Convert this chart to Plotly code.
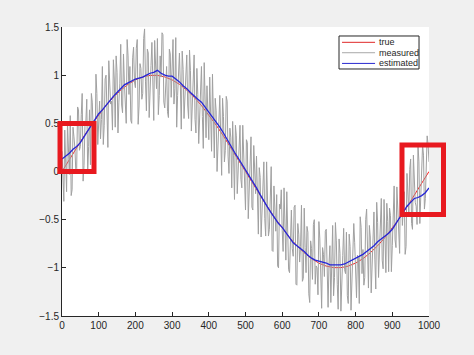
import plotly.graph_objects as go

# ---- data ----
true_x = list(range(0, 1001, 20))
true_y = [0.000, 0.125, 0.249, 0.368, 0.482, 0.588, 0.685, 0.771, 0.844, 0.905,
          0.951, 0.982, 0.998, 0.998, 0.982, 0.951, 0.905, 0.844, 0.771, 0.685,
          0.588, 0.482, 0.368, 0.249, 0.125, 0.000, -0.125, -0.249, -0.368, -0.482,
          -0.588, -0.685, -0.771, -0.844, -0.905, -0.951, -0.982, -0.998, -0.998, -0.982,
          -0.951, -0.905, -0.844, -0.771, -0.685, -0.588, -0.482, -0.368, -0.249, -0.125,
          0.000]

# measured samples at x = 0, 5, 10, ... 1000
meas_x_a = list(range(0, 1001, 5))
meas_y_a = [0.21, -0.31, 0.14, 0.51, -0.03, -0.25, 0.46, 0.25, 0.03, 0.64,
            0.26, 0.81, 0.06, 0.52, -0.01, 0.64, 0.81, 0.42, 0.16, 0.81,
            0.65, 0.34, 1.09, 0.48, 1.00, 0.25, 0.87, 0.73, 1.16, 0.46,
            1.03, 0.72, 1.32, 0.61, 0.92, 0.50, 1.20, 1.09, 0.50, 1.29,
            0.87, 1.37, 0.68, 1.07, 0.81, 1.48, 0.63, 1.23, 0.94, 1.34,
            0.53, 1.16, 1.38, 0.79, 0.98, 1.42, 0.66, 1.09, 0.56, 1.22,
            1.00, 0.70, 1.39, 0.79, 1.23, 0.44, 1.06, 0.83, 1.21, 0.55,
            1.05, 0.65, 1.21, 0.40, 0.80, 0.52, 1.09, 0.24, 0.77, 0.89,
            0.33, 0.58, 1.01, 0.14, 0.63, 0.38, 0.79, -0.04, 0.57, 0.22,
            0.73, -0.02, 0.35, 0.52, -0.29, 0.37, 0.09, 0.48, -0.17, 0.11,
            -0.40, 0.30, -0.22, 0.36, -0.40, -0.15, 0.16, -0.65, -0.06, -0.38,
            0.10, -0.67, -0.25, -0.60, 0.05, -0.83, -0.42, -0.24, -1.00, -0.39,
            -0.61, -0.17, -0.92, -0.57, -1.05, -0.40, -0.88, -0.35, -1.18, -0.65,
            -0.78, -1.14, -0.38, -1.05, -0.63, -1.36, -0.80, -0.55, -1.17, -1.00,
            -0.52, -1.30, -0.79, -1.09, -0.60, -1.41, -0.77, -0.96, -1.29, -0.53,
            -1.17, -0.70, -1.45, -0.87, -1.02, -0.63, -1.37, -0.78, -1.05, -0.54,
            -1.21, -0.87, -1.37, -0.58, -0.81, -1.10, -0.39, -1.21, -0.68, -0.88,
            -0.42, -1.22, -0.53, -0.88, -0.28, -1.01, -0.67, -0.33, -1.04, -0.46,
            -0.77, -0.15, -0.79, -0.43, -0.85, -0.17, -0.31, -0.86, -0.02, -0.43,
            0.13, -0.60, -0.06, -0.36, 0.28, -0.54, -0.07, 0.17, -0.28, 0.37,
            0.10]

# measured samples at x = 2.5, 7.5, ... 997.5
meas_x_b = [k * 5 + 2.5 for k in range(200)]
meas_y_b = [-0.10, 0.43, -0.21, 0.16, 0.58, -0.19, 0.36, 0.02, 0.67, 0.22,
            0.59, -0.10, 0.47, 0.75, 0.26, 0.07, 0.72, 0.53, 1.01, 0.28,
            0.73, 0.54, 0.28, 0.96, 0.46, 1.15, 0.70, 0.43, 0.96, 1.20,
            0.40, 0.91, 0.69, 1.22, 0.62, 1.37, 0.80, 0.53, 1.18, 0.93,
            1.28, 0.49, 1.12, 0.75, 1.38, 0.93, 1.27, 0.56, 1.10, 0.69,
            1.36, 0.86, 0.59, 1.20, 1.44, 0.72, 1.01, 0.62, 1.27, 0.77,
            1.37, 0.86, 0.46, 1.08, 0.89, 1.25, 0.55, 1.10, 0.69, 1.26,
            0.42, 0.84, 0.54, 1.07, 0.29, 0.90, 0.57, 1.13, 0.35, 0.55,
            0.98, 0.21, 0.64, 0.76, 0.00, 0.52, 0.21, 0.76, 0.10, 0.78,
            0.16, 0.45, -0.17, 0.17, 0.48, -0.23, 0.34, -0.08, 0.48, -0.07,
            0.33, -0.49, 0.06, -0.37, 0.27, -0.23, -0.52, 0.04, -0.68, -0.25,
            -0.49, 0.10, -0.67, -0.31, -0.82, -0.15, -0.62, -0.98, -0.34, -0.19,
            -0.83, -0.61, -0.21, -1.02, -0.54, -0.80, -0.37, -1.17, -0.54, -0.94,
            -0.35, -1.11, -0.79, -0.57, -1.27, -0.72, -1.12, -0.50, -0.98, -1.28,
            -0.70, -1.42, -0.86, -0.62, -1.18, -0.96, -1.36, -0.56, -1.10, -0.72,
            -1.43, -0.85, -1.24, -0.59, -1.06, -1.29, -0.65, -1.44, -0.85, -0.74,
            -1.31, -0.89, -0.47, -1.06, -1.18, -0.50, -0.89, -0.56, -1.26, -0.65,
            -0.91, -0.32, -1.10, -0.65, -0.92, -0.29, -1.05, -0.52, -0.38, -1.04,
            -0.51, -0.71, -0.16, -0.79, 0.01, -0.56, -0.21, -0.78, -0.34, 0.02,
            -0.54, 0.17, -0.32, -0.55, 0.10, -0.32, 0.28, -0.39, 0.09, 0.28]

est_x = list(range(0, 1001, 10))
est_y = [0.13, 0.16, 0.19, 0.23, 0.26, 0.30, 0.36, 0.43, 0.49, 0.55,
         0.60, 0.64, 0.69, 0.74, 0.78, 0.82, 0.86, 0.90, 0.92, 0.94,
         0.96, 0.97, 0.98, 1.00, 1.02, 1.03, 1.05, 1.02, 1.00, 0.99,
         0.99, 0.96, 0.93, 0.89, 0.86, 0.82, 0.78, 0.75, 0.72, 0.67,
         0.62, 0.57, 0.52, 0.46, 0.40, 0.33, 0.27, 0.20, 0.14, 0.08,
         0.01, -0.04, -0.10, -0.17, -0.24, -0.31, -0.37, -0.43, -0.49, -0.54,
         -0.58, -0.63, -0.68, -0.74, -0.77, -0.80, -0.83, -0.87, -0.90, -0.92,
         -0.93, -0.94, -0.95, -0.97, -0.97, -0.97, -0.97, -0.96, -0.94, -0.92,
         -0.90, -0.88, -0.86, -0.83, -0.80, -0.77, -0.73, -0.70, -0.67, -0.64,
         -0.60, -0.54, -0.47, -0.41, -0.36, -0.32, -0.28, -0.27, -0.25, -0.22,
         -0.17]

x_ticks = [0, 100, 200, 300, 400, 500, 600, 700, 800, 900, 1000]
y_ticks = [-1.5, -1, -0.5, 0, 0.5, 1, 1.5]
y_ticktext = ["\u22121.5", "\u22121", "\u22120.5", "0", "0.5", "1", "1.5"]

legend_names = ["true", "measured", "estimated"]
legend_colors = ["#e02828", "#a8a8a8", "#2828d0"]

# interleave the two measured sample sets in x order
meas_pts = sorted(zip(meas_x_a + meas_x_b, meas_y_a + meas_y_b))
meas_x = [p[0] for p in meas_pts]
meas_y = [p[1] for p in meas_pts]

# ---- figure ----
fig = go.Figure()
fig.add_trace(go.Scatter(x=true_x, y=true_y, mode="lines", name="true",
                         line=dict(color="#ff1a1a", width=1)))
fig.add_trace(go.Scatter(x=meas_x, y=meas_y, mode="lines", name="measured",
                         line=dict(color="#a0a0a0", width=1)))
fig.add_trace(go.Scatter(x=est_x, y=est_y, mode="lines", name="estimated",
                         line=dict(color="#2424d8", width=1.3)))

axis_common = dict(showgrid=False, zeroline=False, showline=True, linecolor="#262626",
                   linewidth=1, ticks="inside", ticklen=4, tickcolor="#262626",
                   tickfont=dict(family="Liberation Sans", size=10, color="#262626"),
                   mirror=False)

# legend drawn as a MATLAB-style box
lg_x0, lg_x1, lg_y0, lg_y1 = 0.7548, 0.9728, 0.8547, 0.9689
row_y = [0.947, 0.911, 0.874]
shapes = [dict(type="rect", xref="paper", yref="paper", x0=lg_x0, x1=lg_x1,
               y0=lg_y0, y1=lg_y1, line=dict(color="#262626", width=1),
               fillcolor="white", layer="above")]
annotations = []
for name, col, yy in zip(legend_names, legend_colors, row_y):
    shapes.append(dict(type="line", xref="paper", yref="paper", x0=0.763, x1=0.853,
                       y0=yy, y1=yy, line=dict(color=col, width=1), layer="above"))
    annotations.append(dict(xref="paper", yref="paper", x=0.859, y=yy, text=name,
                            showarrow=False, xanchor="left", yanchor="middle",
                            font=dict(family="Liberation Sans", size=9, color="#262626")))

# red highlight boxes
shapes += [
    dict(type="rect", xref="paper", yref="paper", x0=-0.0054, x1=0.0872,
         y0=0.500, y1=0.666, line=dict(color="#e8191f", width=5)),
    dict(type="rect", xref="paper", yref="paper", x0=0.9264, x1=1.0395,
         y0=0.351, y1=0.592, line=dict(color="#e8191f", width=5)),
]

fig.update_layout(
    width=474, height=355,
    margin=dict(l=62, r=45, t=27, b=39),
    paper_bgcolor="#f0f0f0", plot_bgcolor="white",
    showlegend=False,
    xaxis=dict(range=[0, 1000], tickvals=x_ticks, **axis_common),
    yaxis=dict(range=[-1.5, 1.5], tickvals=y_ticks, ticktext=y_ticktext, **axis_common),
    shapes=shapes,
    annotations=annotations,
)

fig.write_html("out.html")
